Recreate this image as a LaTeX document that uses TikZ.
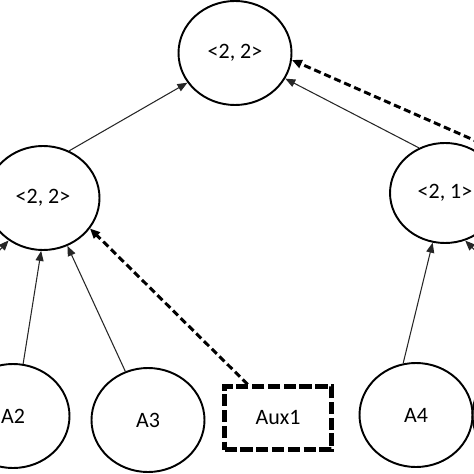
\documentclass[tikz,border=0pt]{standalone}
\usepackage{fontspec}
\setmainfont{Carlito}
\usetikzlibrary{shapes.geometric, arrows.meta, positioning}

\begin{document}
\begin{tikzpicture}[
        every node/.style={font=\fontsize{12.5}{15}\selectfont, align=center},
        agent/.style={ellipse, draw=black, line width=1.1pt, minimum width=2.26cm, minimum height=2.08cm},
        auxbox/.style={rectangle, draw=black, line width=2.4pt, dash pattern=on 7pt off 2pt, minimum width=2.14cm, minimum height=1.26cm},
        arr/.style={-{Triangle[length=2mm, width=1.6mm]}, line width=0.6pt, black!85},
        darr/.style={-{Triangle[length=2mm, width=1.7mm]}, line width=1.7pt, dash pattern=on 4pt off 2.2pt, black}
    ]
        \clip (0,0) rectangle (9.48,-9.48);

        % Nodos
        \node[agent] (top) at (4.70, -1.06) {<2, 2>};
        \node[agent] (l)   at (0.86, -3.96) {<2, 2>};
        \node[agent, minimum width=2.20cm, minimum height=2.0cm] (r) at (8.90, -3.86) {<2, 1>};

        \node[agent] (a2)  at (0.26, -8.32) {A2};
        \node[agent] (a3)  at (2.96, -8.40) {A3};
        \node[auxbox] (aux) at (5.56, -8.36) {Aux1};
        \node[agent] (a4)  at (8.32, -8.30) {A4};
        \node[agent] (a5)  at (10.58, -8.30) {};

        % Free ends outside the frame
        \coordinate (offL) at (-1.30, -6.40);
        \coordinate (offR) at (10.90, -6.40);
        \coordinate (offD) at (11.20, -3.56);

        % Arrows
        \draw[arr] (l.61)   -- (top.212);
        \draw[arr] (r.120)  -- (top.333);
        \draw[darr] (offD)  -- (top.353);

        \draw[arr] (offL)   -- (l.231);
        \draw[arr] (a2.79)  -- (l.268);
        \draw[arr] (a3.115) -- (l.297);
        \draw[darr] (aux.132) -- (l.327);

        \draw[arr] (a4.104) -- (r.256);
        \draw[arr] (offR)   -- (r.293);
    \end{tikzpicture}
\end{document}
